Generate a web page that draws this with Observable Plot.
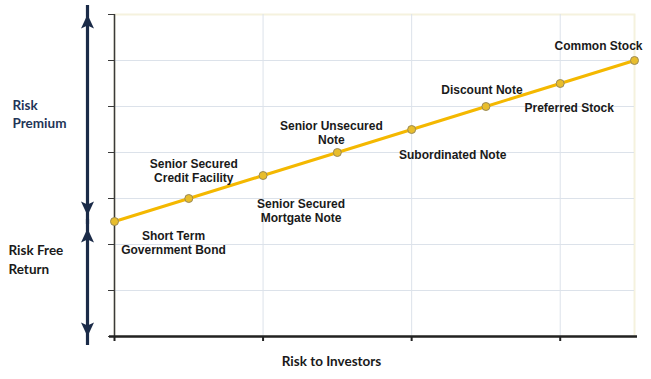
<!DOCTYPE html>
<html>
<head>
<meta charset="utf-8">
<script src="https://cdn.jsdelivr.net/npm/d3@7"></script>
<script src="https://cdn.jsdelivr.net/npm/@observablehq/plot@0.6"></script>
<style>
  html, body { margin: 0; padding: 0; background: #ffffff; }
  #chart svg { display: block; }
</style>
</head>
<body>
<div id="chart"></div>
<script>
// ---- data ----
const securities = [
  "Short Term\nGovernment Bond",
  "Senior Secured\nCredit Facility",
  "Senior Secured\nMortgate Note",
  "Senior Unsecured\nNote",
  "Subordinated Note",
  "Discount Note",
  "Preferred Stock",
  "Common Stock"
];
const riskLevels = [0, 1, 2, 3, 4, 5, 6, 7];
const returns = [2.5, 3, 3.5, 4, 4.5, 5, 5.5, 6];
const yTicks = [0, 1, 2, 3, 4, 5, 6, 7];
const xTicks = [0, 2, 4, 6];
const bandLabels = ["Risk\nPremium", "Risk Free\nReturn"];
const bandFrom = [2.63, 0];
const bandTo = [7, 2.35];
const xTitle = "Risk to Investors";

// ---- layout (label offsets in px) ----
const labelOffsets = [[59, 21], [5, -28], [38, 35], [-6, -20], [41, 25], [-4, -17], [9, 24], [-36, -15]];
const bandStyles = [{dx: -102, dy: -2, fill: "#1f3557"}, {dx: -106, dy: -24, fill: "#1a1a1a"}];

const points = securities.map((name, i) => ({name, risk: riskLevels[i], ret: returns[i]}));
const bands = bandLabels.map((label, i) => ({label, y1: bandFrom[i], y2: bandTo[i]}));

const navy = "#1b2b48";
const arrowHead = {
  draw(ctx) {
    ctx.moveTo(0, 0);
    ctx.lineTo(6.5, 14);
    ctx.lineTo(0, 11);
    ctx.lineTo(-6.5, 14);
    ctx.closePath();
  }
};

const pointFont = {fontFamily: "'Liberation Sans', Arial, sans-serif", fontSize: 12, fontWeight: "bold", fill: "#1a1a1a"};

const chart = Plot.plot({
  width: 651,
  height: 379,
  marginLeft: 114,
  marginRight: 17,
  marginTop: 14,
  marginBottom: 43,
  x: {domain: [0, 7]},
  y: {domain: [0, 7]},
  style: {background: "#ffffff", overflow: "visible"},
  marks: [
    Plot.frame({stroke: "#f5f2de", strokeWidth: 2}),
    Plot.gridY(yTicks.filter(d => d > 0 && d < 7), {stroke: "#dce2ea", strokeOpacity: 1}),
    Plot.gridX(xTicks.filter(d => d > 0), {stroke: "#dce2ea", strokeOpacity: 1}),
    Plot.axisY({ticks: yTicks, tickSize: 6, tickFormat: () => "", label: null, stroke: "#3a3a3a"}),
    Plot.axisX({ticks: xTicks, tickSize: 5, tickFormat: () => "", label: null, stroke: "#222", strokeWidth: 2}),
    Plot.ruleX([0], {stroke: "#3a3a3a", strokeWidth: 1.5}),
    Plot.ruleY([0], {stroke: "#222", strokeWidth: 2.5, insetLeft: -5, insetRight: -3}),
    // risk curve
    Plot.line(points, {x: "risk", y: "ret", stroke: "#f4b800", strokeWidth: 3}),
    Plot.dot(points, {x: "risk", y: "ret", r: 4, fill: "#e8bd2c", stroke: "#9a8a58", strokeWidth: 1}),
    ...points.map((p, i) => Plot.text([p], {
      x: "risk", y: "ret", text: "name",
      dx: labelOffsets[i][0], dy: labelOffsets[i][1],
      lineHeight: 1.2, ...pointFont
    })),
    // band arrows
    Plot.ruleX(bands, {x: () => 0, y1: "y1", y2: "y2", dx: -27, stroke: navy, strokeWidth: 3.2, insetTop: 9, insetBottom: 9}),
    Plot.dot(bands, {x: () => 0, y: "y2", dx: -27, symbol: arrowHead, fill: navy, stroke: "none"}),
    Plot.dot(bands, {x: () => 0, y: "y1", dx: -27, symbol: arrowHead, rotate: 180, fill: navy, stroke: "none"}),
    ...bands.map((b, i) => Plot.text([b], {
      x: () => 0, y: d => (d.y1 + d.y2) / 2, text: "label",
      dx: bandStyles[i].dx, dy: bandStyles[i].dy,
      textAnchor: "start", lineHeight: 1.38,
      fontFamily: "Lato, 'Open Sans', sans-serif", fontSize: 13.5, fontWeight: "bold",
      fill: bandStyles[i].fill
    })),
    // x axis title
    Plot.text([xTitle], {
      frameAnchor: "bottom", dx: -43, dy: 29,
      fontFamily: "Lato, 'Open Sans', sans-serif", fontSize: 13.5, fontWeight: "bold", fill: "#1a1a1a"
    })
  ]
});
document.getElementById("chart").appendChild(chart);
</script>
</body>
</html>
